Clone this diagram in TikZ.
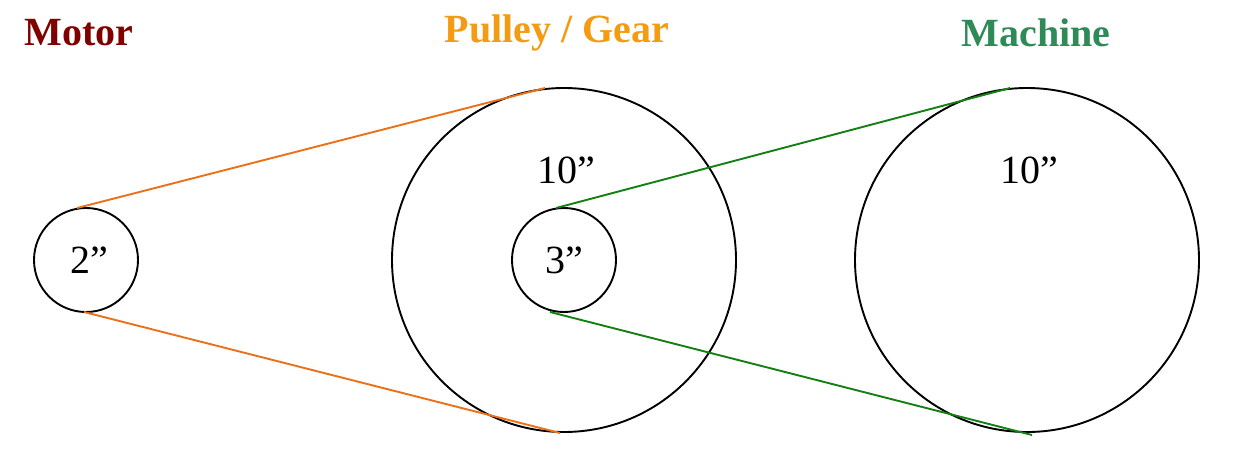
\documentclass[tikz,border=0pt]{standalone}
\usepackage{fontspec}
\setmainfont{Liberation Serif}
\begin{document}
\begin{tikzpicture}[x=1pt,y=-1pt,
  wheel/.style={draw=black,line width=1.9pt,circle,inner sep=0pt},
  lbl/.style={font=\fontsize{40}{42}\selectfont},
  ttl/.style={font=\fontsize{40}{42}\selectfont\bfseries},
  orbelt/.style={draw={rgb,255:red,236;green,112;blue,24},line width=1.9pt},
  grbelt/.style={draw={rgb,255:red,20;green,128;blue,20},line width=1.9pt}]
\useasboundingbox (0,0) rectangle (1235,472);
\node[wheel,minimum size=104pt] (motor) at (86,260) {};
\node[wheel,minimum size=344pt] (big) at (564,260) {};
\node[wheel,minimum size=104pt] (small) at (564,260) {};
\node[wheel,minimum size=344pt] (mach) at (1027,260) {};
\node[lbl] (l2) at (89,260) {2”};
\node[lbl] (l3) at (564,260) {3”};
\node[lbl] (l10a) at (566,170) {10”};
\node[lbl] (l10b) at (1029,170) {10”};
\node[ttl,text={rgb,255:red,128;green,0;blue,0}] (tm) at (79,33) {Motor};
\node[ttl,text={rgb,255:red,243;green,156;blue,18}] (tp) at (557,33) {Pulley / Gear};
\node[ttl,text={rgb,255:red,46;green,139;blue,87}] (tma) at (1036,33) {Machine};
\coordinate (a1) at (77,208); \coordinate (a2) at (545,88);
\coordinate (b1) at (84,312); \coordinate (b2) at (560,433);
\coordinate (c1) at (556,208); \coordinate (c2) at (1010,88);
\coordinate (d1) at (550,312); \coordinate (d2) at (1032,435);
\draw[orbelt] (a1) -- (a2);
\draw[orbelt] (b1) -- (b2);
\draw[grbelt] (c1) -- (c2);
\draw[grbelt] (d1) -- (d2);
\end{tikzpicture}
\end{document}
